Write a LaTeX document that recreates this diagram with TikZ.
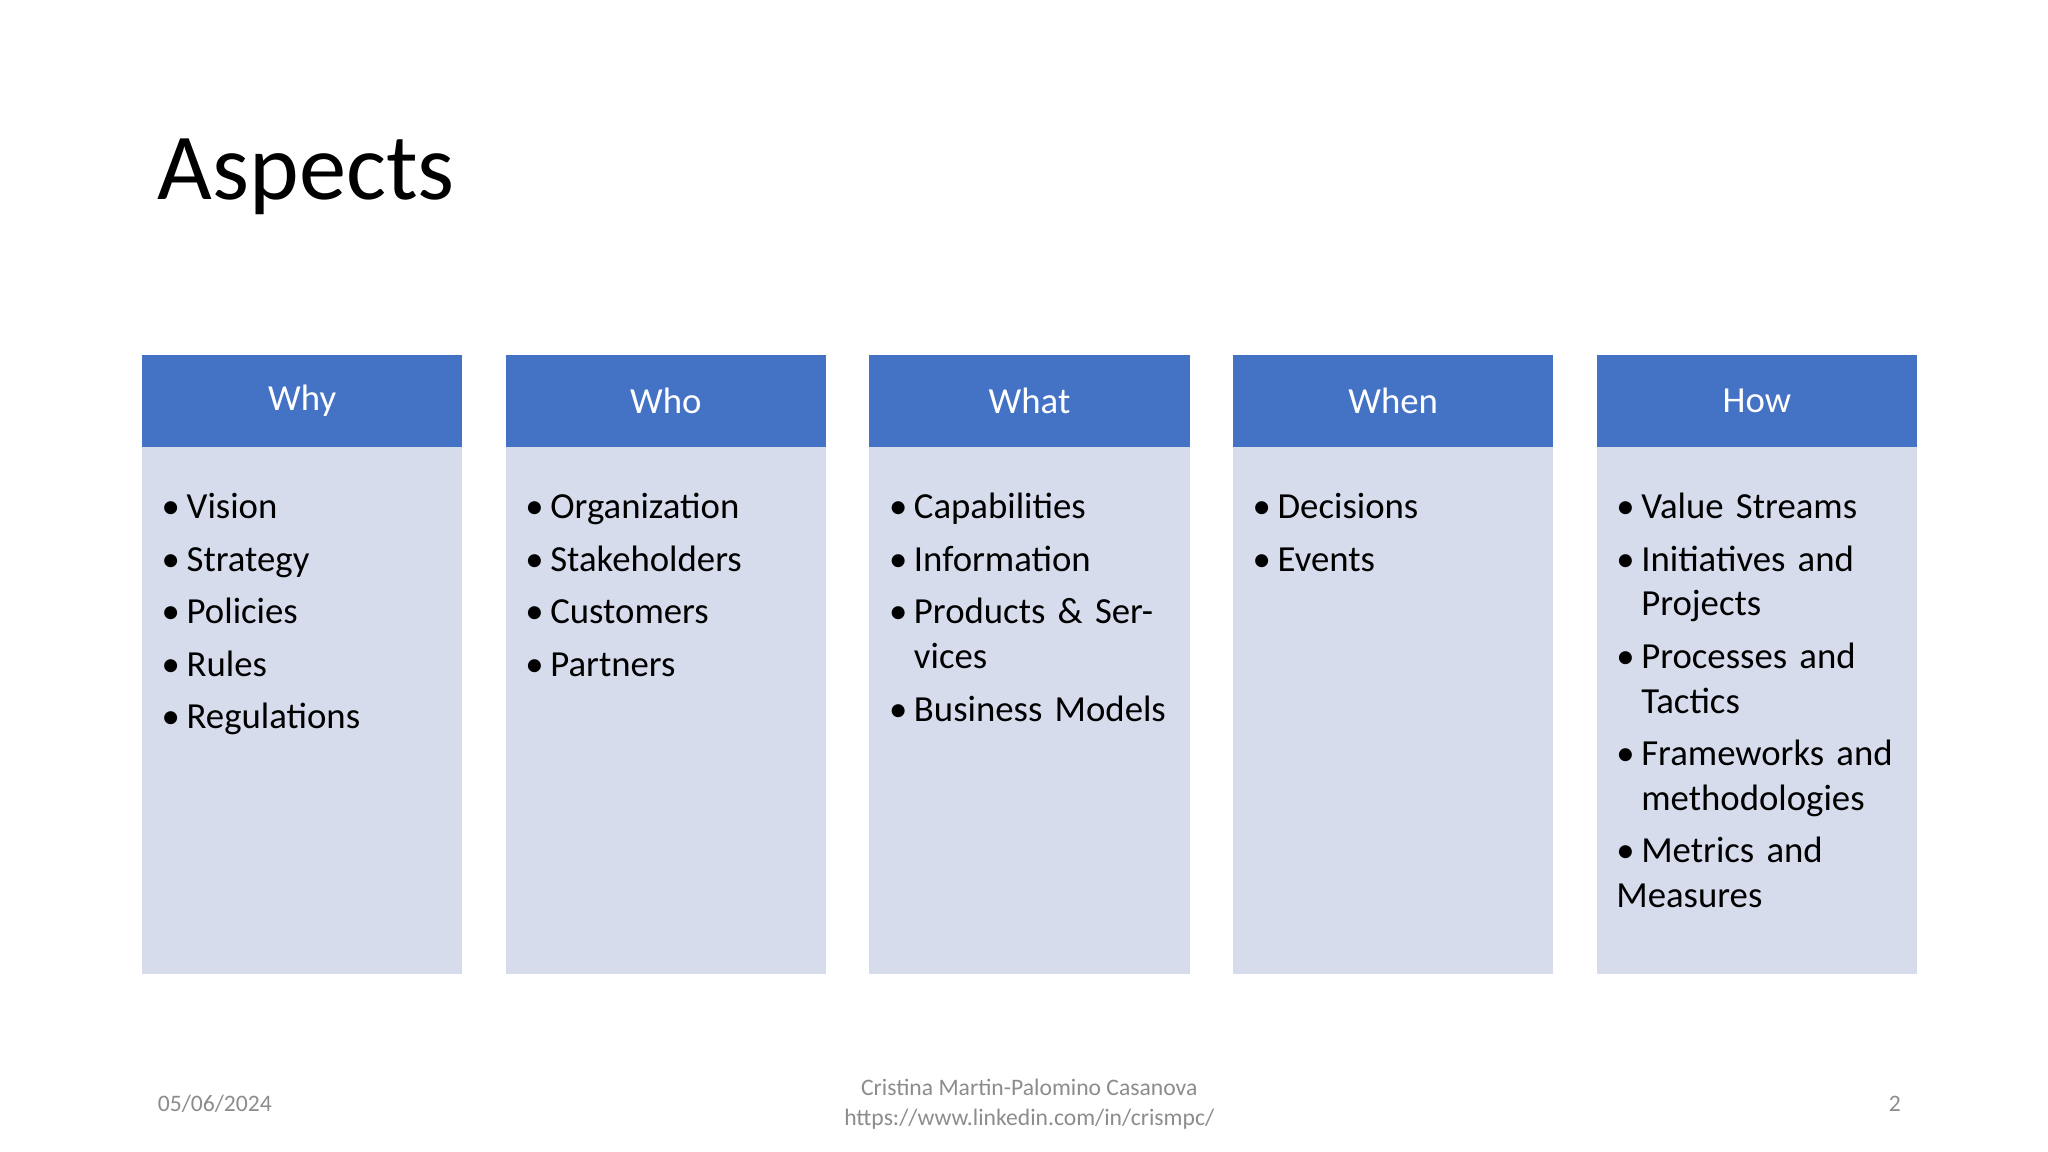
\documentclass[tikz,border=0pt]{standalone}
\usepackage{fontspec}
\setmainfont{Carlito}
\definecolor{hdr}{HTML}{4472C4}
\definecolor{bdy}{HTML}{D6DCEC}
\definecolor{foot}{HTML}{8C8C8C}
\newcommand{\itm}[1]{\par\noindent\hangindent=19pt\hangafter=1\hbox to 19pt{\textbullet\hfil}#1}
\tikzset{
  hdrbox/.style={fill=hdr,minimum width=244pt,minimum height=70pt,anchor=north west,inner sep=0pt,text=white,font=\fontsize{28}{34}\selectfont},
  bdybox/.style={fill=bdy,minimum width=244pt,minimum height=402pt,anchor=north west,inner sep=0pt},
  listtxt/.style={anchor=north west,text width=222pt,inner sep=0pt,align=left,font=\fontsize{28}{34}\selectfont\setlength{\parskip}{6pt}},
  foottxt/.style={text=foot,font=\fontsize{18}{23}\selectfont,inner sep=0pt}
}
\begin{document}
\begin{tikzpicture}[x=1pt,y=1pt]
\useasboundingbox (0,0) rectangle (1560,-877.5);
\node[anchor=base west,inner sep=0pt,font=\fontsize{72}{80}\selectfont] (title) at (120,-152) {Aspects};
\foreach \n/\x/\h in {a/108/Why,b/385/Who,c/662/What,d/939/When,e/1216/How}{
  \node[bdybox] (bd\n) at (\x,-340) {};
  \node[hdrbox] (hd\n) at (\x,-270) {\h};
}
\node[listtxt] (la) at ([xshift=15pt,yshift=-15pt]bda.north west) {\itm{Vision}\itm{Strategy}\itm{Policies}\itm{Rules}\itm{Regulations}};
\node[listtxt] (lb) at ([xshift=15pt,yshift=-15pt]bdb.north west) {\itm{Organization}\itm{Stakeholders}\itm{Customers}\itm{Partners}};
\node[listtxt] (lc) at ([xshift=15pt,yshift=-15pt]bdc.north west) {\itm{Capabilities}\itm{Information}\itm{Products \& Services}\itm{Business Models}};
\node[listtxt] (ld) at ([xshift=15pt,yshift=-15pt]bdd.north west) {\itm{Decisions}\itm{Events}};
\node[listtxt] (le) at ([xshift=15pt,yshift=-15pt]bde.north west) {\itm{Value Streams}\itm{Initiatives and Projects}\itm{Processes and Tactics}\itm{Frameworks and methodologies}\itm{Metrics and Measures}};
\node[foottxt,anchor=west] (date) at (120,-841) {05/06/2024};
\node[foottxt,align=center] (author) at (784,-841) {Cristina Martin-Palomino Casanova\\https://www.linkedin.com/in/crismpc/};
\node[foottxt,anchor=east] (page) at (1448,-841) {2};
\end{tikzpicture}
\end{document}
